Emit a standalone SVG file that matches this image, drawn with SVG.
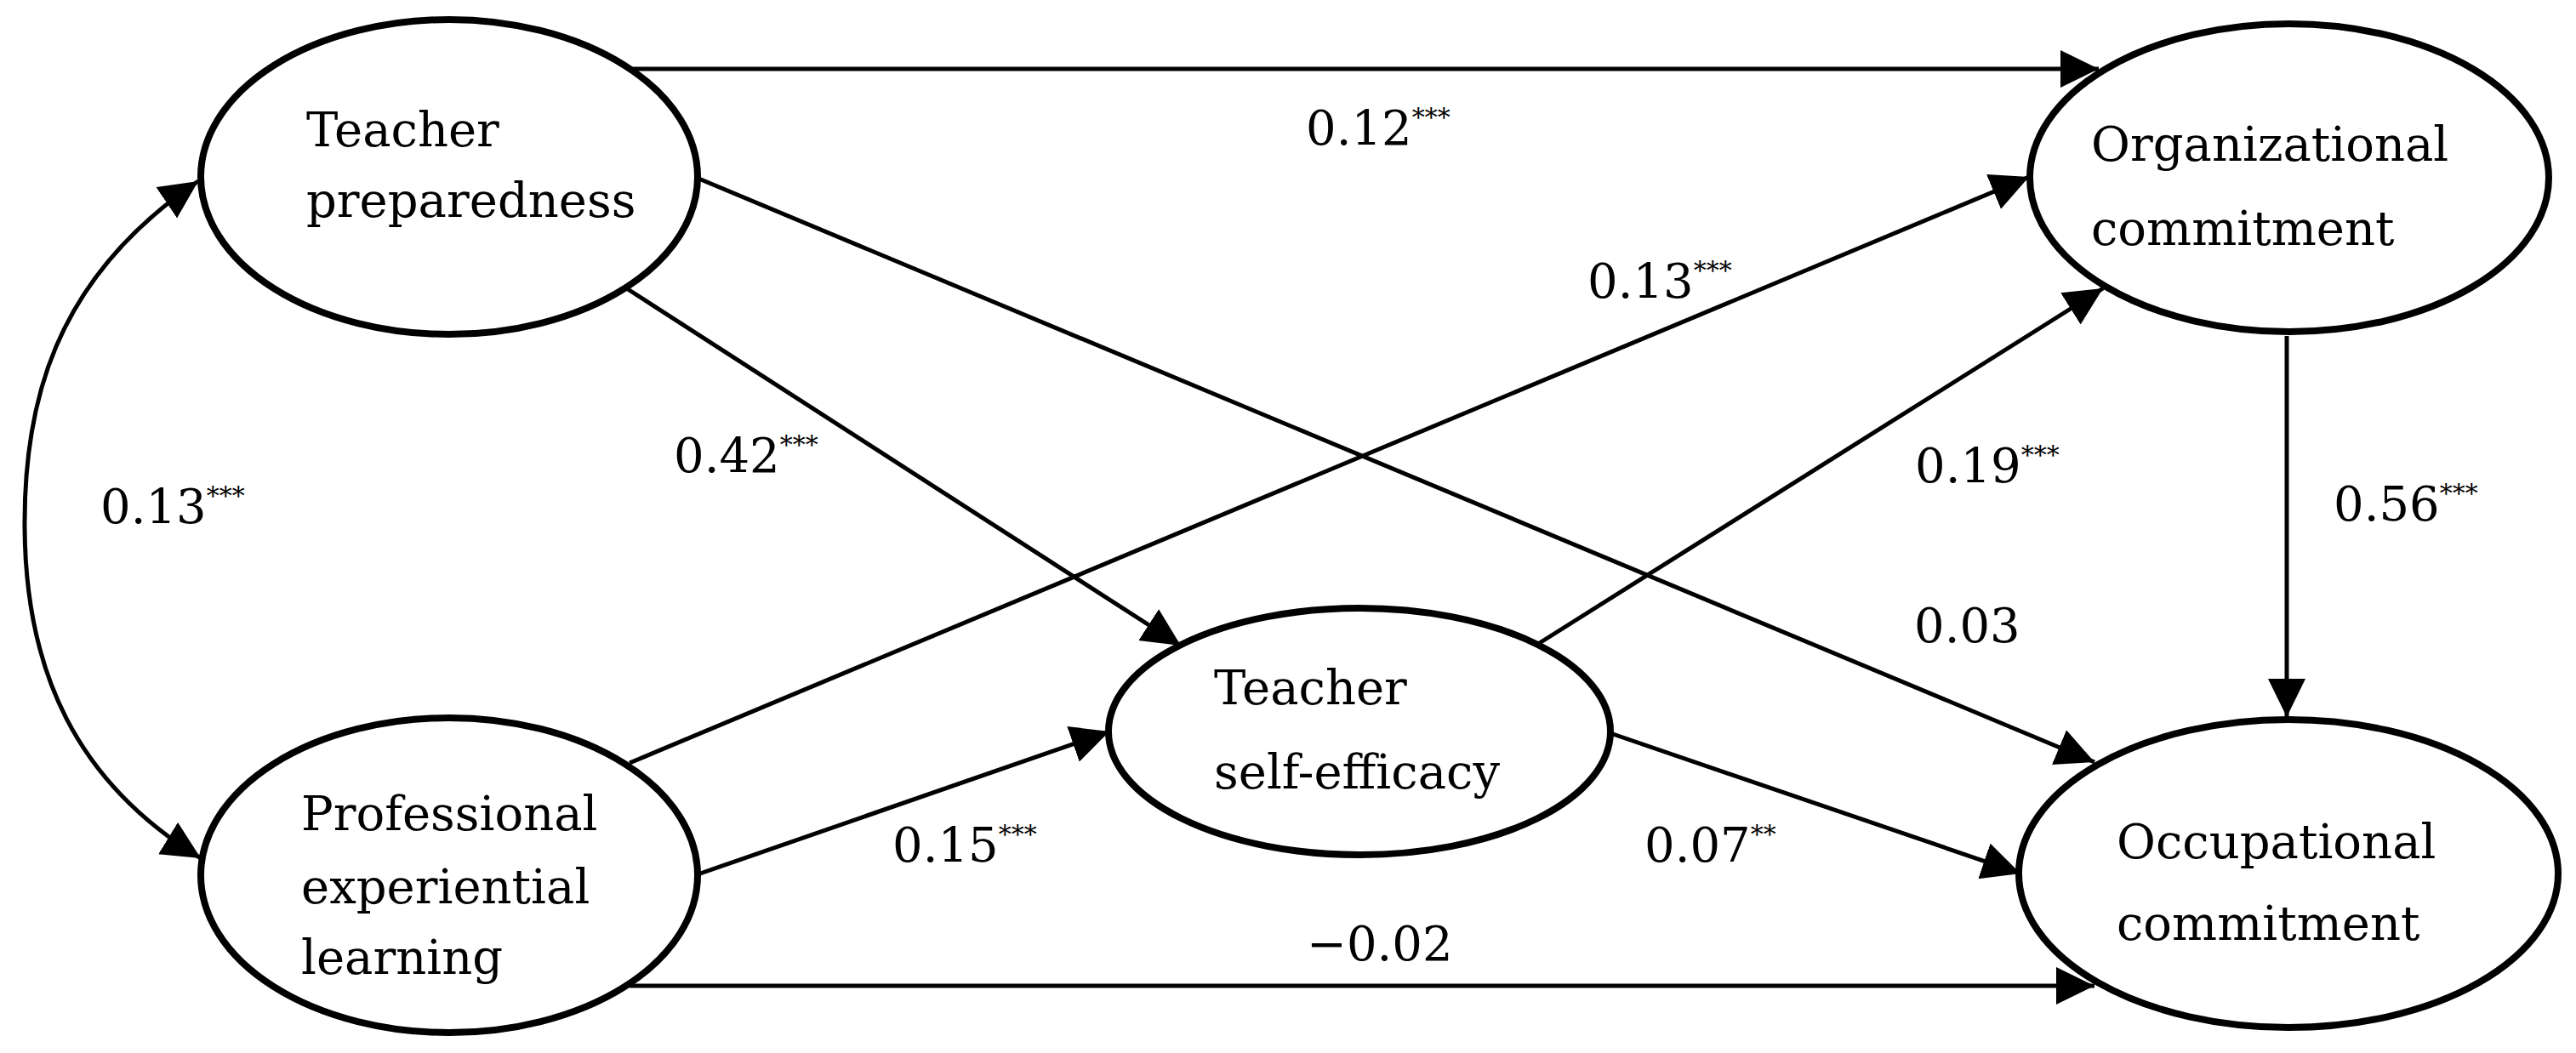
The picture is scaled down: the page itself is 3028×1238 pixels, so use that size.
<svg xmlns="http://www.w3.org/2000/svg" width="3028" height="1238" viewBox="0 0 3028 1238">
<style>
.node{fill:#fff;stroke:#000;stroke-width:8}
.lbl{font-family:"DejaVu Serif","Liberation Serif",serif;font-size:56px;fill:#000}
.sup{font-size:30px}
.c{fill:none;stroke:#000;stroke-width:5;marker-end:url(#ah)}
</style>
<defs>
<marker id="ah" markerUnits="userSpaceOnUse" markerWidth="46" markerHeight="46" refX="45" refY="22" orient="auto-start-reverse">
<path d="M0,0 L45,22 L0,44 z" fill="#000"/>
</marker>
</defs>
<rect width="3028" height="1238" fill="#fff"/>
<g id="connectors">
<line class="c" x1="738" y1="81" x2="2467" y2="81"/>
<line class="c" x1="819" y1="209" x2="2462" y2="896"/>
<line class="c" x1="738" y1="340" x2="1388" y2="759"/>
<line class="c" x1="740" y1="897" x2="2385" y2="208"/>
<line class="c" x1="823" y1="1027" x2="1304" y2="860"/>
<line class="c" x1="740" y1="1159" x2="2462" y2="1159"/>
<line class="c" x1="1808" y1="757" x2="2472" y2="339"/>
<line class="c" x1="1893" y1="862" x2="2375" y2="1027"/>
<line class="c" x1="2688" y1="395" x2="2688" y2="843"/>
<path class="c" style="marker-start:url(#ah)" d="M233 213 C60 330 28 480 29 620 C30 790 90 920 236 1009"/>
</g>
<g id="teacher-preparedness">
<ellipse class="node" cx="528" cy="208" rx="292" ry="185"/>
<text class="lbl" x="360" y="172">Teacher</text>
<text class="lbl" x="360" y="255">preparedness</text>
</g>
<g id="organizational-commitment">
<ellipse class="node" cx="2691" cy="209" rx="305" ry="181"/>
<text class="lbl" x="2458" y="189">Organizational</text>
<text class="lbl" x="2458" y="288">commitment</text>
</g>
<g id="teacher-self-efficacy">
<ellipse class="node" cx="1598" cy="860" rx="295" ry="145"/>
<text class="lbl" x="1427" y="828">Teacher</text>
<text class="lbl" x="1427" y="927">self-efficacy</text>
</g>
<g id="professional-experiential-learning">
<ellipse class="node" cx="528" cy="1029" rx="292" ry="185"/>
<text class="lbl" x="354" y="976">Professional</text>
<text class="lbl" x="354" y="1062">experiential</text>
<text class="lbl" x="354" y="1145">learning</text>
</g>
<g id="occupational-commitment">
<ellipse class="node" cx="2690" cy="1027" rx="317" ry="181"/>
<text class="lbl" x="2488" y="1009">Occupational</text>
<text class="lbl" x="2488" y="1105">commitment</text>
</g>
<g id="labels">
<text class="lbl" x="1535" y="170">0.12<tspan class="sup" dy="-22">***</tspan></text>
<text class="lbl" x="1866" y="350">0.13<tspan class="sup" dy="-22">***</tspan></text>
<text class="lbl" x="792" y="555">0.42<tspan class="sup" dy="-22">***</tspan></text>
<text class="lbl" x="2251" y="567">0.19<tspan class="sup" dy="-22">***</tspan></text>
<text class="lbl" x="118" y="615">0.13<tspan class="sup" dy="-22">***</tspan></text>
<text class="lbl" x="2743" y="612">0.56<tspan class="sup" dy="-22">***</tspan></text>
<text class="lbl" x="2250" y="755">0.03</text>
<text class="lbl" x="1049" y="1013">0.15<tspan class="sup" dy="-22">***</tspan></text>
<text class="lbl" x="1933" y="1013">0.07<tspan class="sup" dy="-22">**</tspan></text>
<text class="lbl" x="1536" y="1129">−0.02</text>
</g>
</svg>
